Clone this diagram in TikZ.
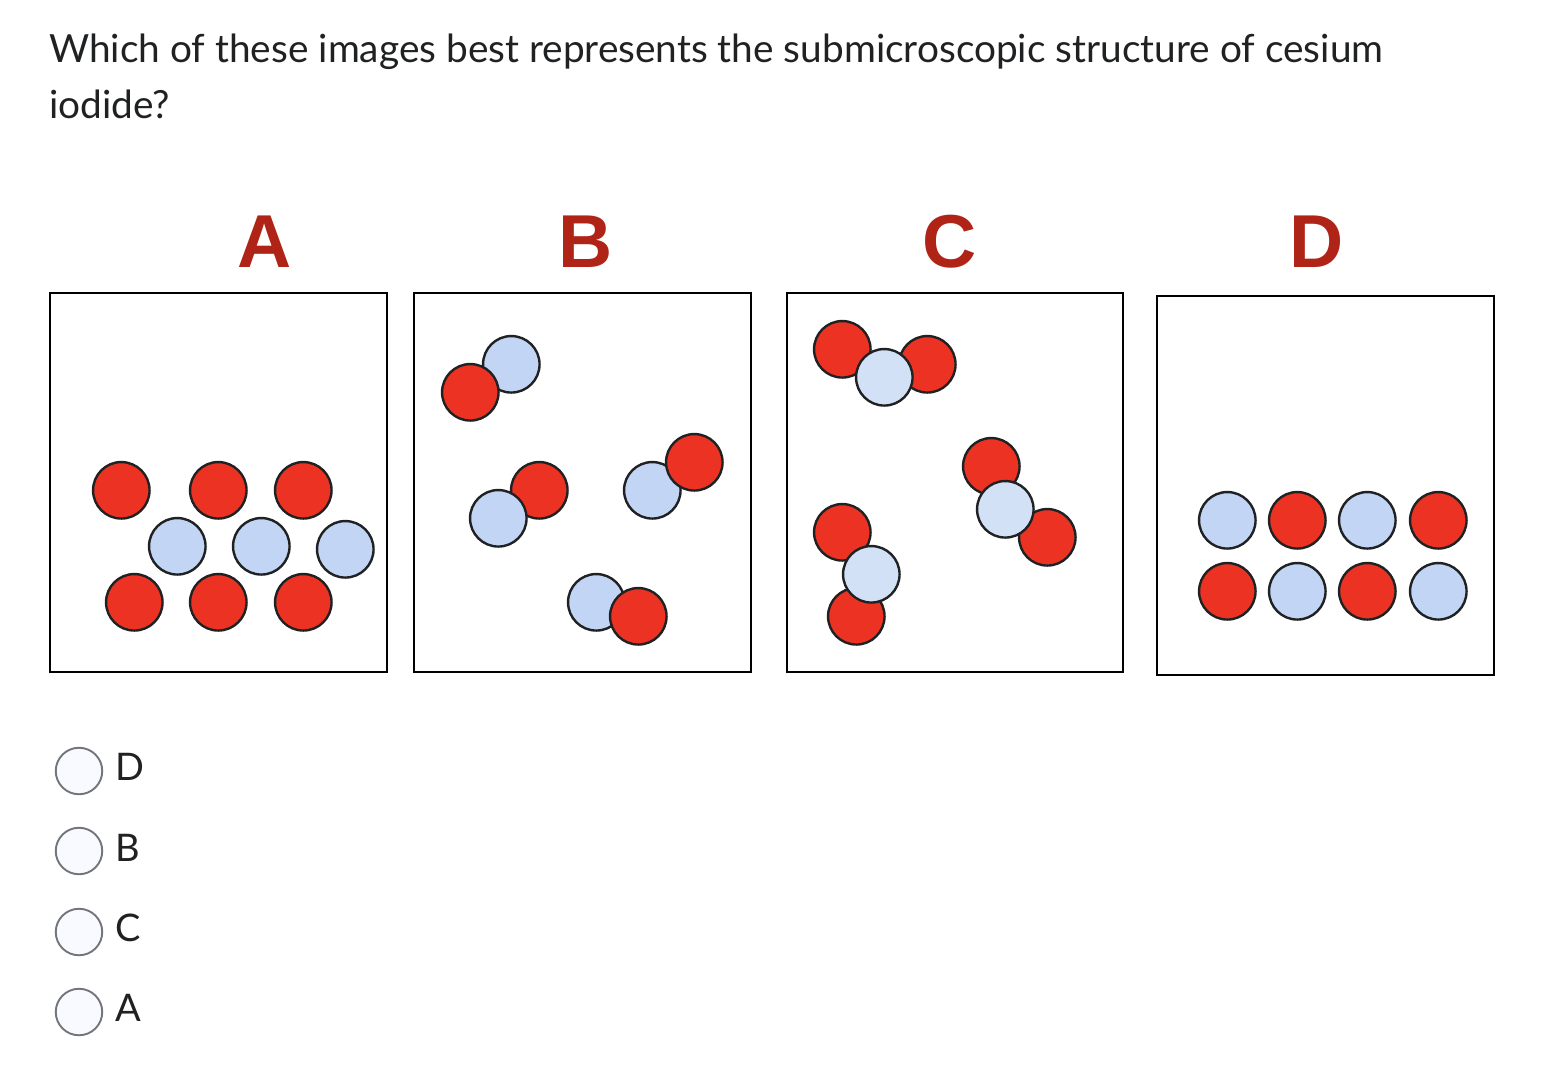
\documentclass[tikz,border=0pt]{standalone}
\usepackage{fontspec}
\setmainfont{Lato}
\newfontfamily\headfont{Liberation Sans}
\definecolor{ionred}{HTML}{EC3323}
\definecolor{ionblue}{HTML}{C3D5F5}
\definecolor{ionpale}{HTML}{D3E1F7}
\definecolor{headred}{HTML}{B02418}
\definecolor{inktext}{HTML}{202122}
\definecolor{radioedge}{HTML}{72767A}
\definecolor{radiofill}{HTML}{F9FAFF}
\tikzset{
  panel/.style={draw=black,line width=2pt,fill=white,rectangle,minimum width=336.6pt,inner sep=0pt},
  redion/.style={circle,draw=inktext,line width=2.4pt,fill=ionred,minimum size=56.5pt,inner sep=0pt},
  blueion/.style={circle,draw=inktext,line width=2.4pt,fill=ionblue,minimum size=56.5pt,inner sep=0pt},
  paleion/.style={circle,draw=inktext,line width=2.4pt,fill=ionpale,minimum size=56.5pt,inner sep=0pt},
  head/.style={font=\headfont\bfseries\fontsize{75}{75}\selectfont,text=headred,inner sep=0pt,anchor=base},
  radio/.style={circle,draw=radioedge,line width=1.9pt,fill=radiofill,minimum size=46.5pt,inner sep=0pt},
  opt/.style={font=\fontsize{38}{38}\selectfont,text=inktext,inner sep=0pt,anchor=base west},
  qline/.style={font=\fontsize{38.8}{38.8}\selectfont,text=inktext,inner sep=0pt,anchor=base west}
}
\begin{document}
\begin{tikzpicture}[x=1pt,y=-1pt]
\useasboundingbox[fill=white] (0,0) rectangle (1552,1066);
\node[qline] (q1) at (49,62) {Which of these images best represents the submicroscopic structure of cesium};
\node[qline] (q2) at (49,118) {iodide?};
\node[head] (hA) at (264.5,267) {A};
\node[head] (hB) at (586,267) {B};
\node[head] (hC) at (950,267) {C};
\node[head] (hD) at (1317,267) {D};
\node[panel,minimum height=379pt] (pA) at (218.5,482.5) {};
\node[panel,minimum height=379pt] (pB) at (582.3,482.5) {};
\node[panel,minimum height=379pt] (pC) at (955,482.5) {};
\node[panel,minimum height=379pt] (pD) at (1325.5,485) {};
\begin{scope}[shift={(0.3,0.3)}]
% A
\node[redion] (a1) at (121,490) {};
\node[redion] (a2) at (218,490) {};
\node[redion] (a3) at (303,490) {};
\node[blueion] (a4) at (177,546) {};
\node[blueion] (a5) at (261,546) {};
\node[blueion] (a6) at (345,549) {};
\node[redion] (a7) at (134,602) {};
\node[redion] (a8) at (218,602) {};
\node[redion] (a9) at (303,602) {};
% B
\node[blueion] (b1) at (511,364) {};
\node[redion] (b2) at (470,392) {};
\node[redion] (b3) at (539,490) {};
\node[blueion] (b4) at (498,518) {};
\node[blueion] (b5) at (652,490) {};
\node[redion] (b6) at (694,462) {};
\node[blueion] (b7) at (596,602) {};
\node[redion] (b8) at (638,616) {};
% C
\node[redion] (c1) at (842,349) {};
\node[redion] (c2) at (927,364) {};
\node[paleion] (c3) at (884,377) {};
\node[redion] (c4) at (991,466) {};
\node[redion] (c5) at (1047,537) {};
\node[paleion] (c6) at (1005,509) {};
\node[redion] (c7) at (842,532) {};
\node[redion] (c8) at (856,616) {};
\node[paleion] (c9) at (871,574) {};
% D
\node[blueion] (d1) at (1227,520) {};
\node[redion] (d2) at (1297,520) {};
\node[blueion] (d3) at (1367,520) {};
\node[redion] (d4) at (1438,520) {};
\node[redion] (d5) at (1227,591) {};
\node[blueion] (d6) at (1297,591) {};
\node[redion] (d7) at (1367,591) {};
\node[blueion] (d8) at (1438,591) {};
\end{scope}
% options
\node[radio] (r1) at (79,771) {};
\node[radio] (r2) at (79,851) {};
\node[radio] (r3) at (79,932) {};
\node[radio] (r4) at (79,1012) {};
\node[opt] (o1) at (115,780.5) {D};
\node[opt] (o2) at (115,861.5) {B};
\node[opt] (o3) at (115,941.5) {C};
\node[opt] (o4) at (115,1021.5) {A};
\end{tikzpicture}
\end{document}
